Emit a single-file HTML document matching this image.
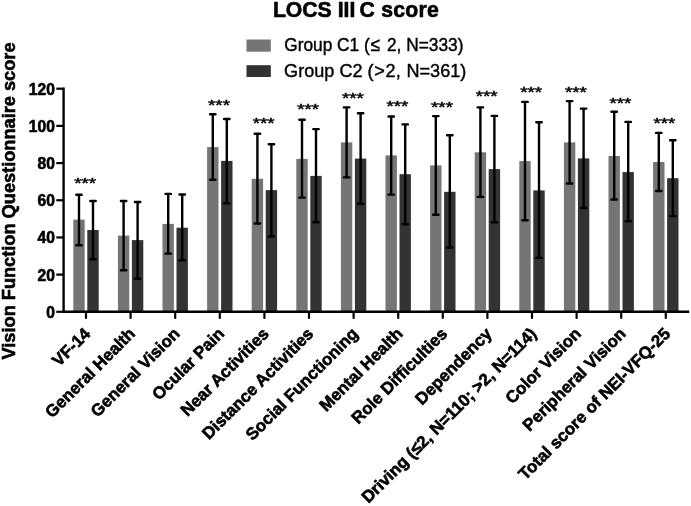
<!DOCTYPE html>
<html lang="en"><head><meta charset="utf-8"><title>LOCS III C score</title>
<style>html,body{margin:0;padding:0;background:#fff}body{width:691px;height:506px;overflow:hidden}svg{display:block}text{font-family:"Liberation Sans", sans-serif;fill:#000}.b{font-weight:bold;stroke:#000;stroke-width:0.6px}.s{stroke:#000;stroke-width:0.6px}.r{stroke:#000;stroke-width:0.4px}</style>
</head><body>
<svg width="691" height="506" viewBox="0 0 691 506">
<rect width="691" height="506" fill="#fff"/>
<text class="b" font-size="21.2" transform="translate(272.9 16.7) scale(1 1.05)">LOCS III<tspan dx="-1.7"> C</tspan><tspan dx="0.2" letter-spacing="0.3"> score</tspan></text>
<rect x="246.5" y="39.5" width="24.3" height="12.2" fill="#757575"/>
<rect x="246.5" y="65.2" width="24.3" height="11.8" fill="#333333"/>
<text class="r" font-size="17.3" transform="translate(284.2 51.25) scale(1 1.1)">Group C1 (<tspan dx="0.7">≤</tspan><tspan dx="2.3"> 2, N=333)</tspan></text>
<text class="r" font-size="18.1" transform="translate(284.1 76.65) scale(1 1.035)">Group C2 (<tspan dx="0.8">&gt;</tspan><tspan dx="0.7">2,</tspan><tspan dx="0.7"> N=361)</tspan></text>
<text class="b" font-size="18.2" text-anchor="middle" transform="translate(14.6 201) rotate(-90)">Vision Function Questionnaire score</text>
<rect x="73.30" y="219.6" width="11.40" height="92.2" fill="#757575"/>
<rect x="87.30" y="230.0" width="11.40" height="81.8" fill="#333333"/>
<rect x="117.90" y="235.6" width="11.40" height="76.2" fill="#757575"/>
<rect x="131.90" y="240.1" width="11.40" height="71.7" fill="#333333"/>
<rect x="162.50" y="223.9" width="11.40" height="87.9" fill="#757575"/>
<rect x="176.50" y="227.7" width="11.40" height="84.1" fill="#333333"/>
<rect x="207.10" y="147.1" width="11.40" height="164.7" fill="#757575"/>
<rect x="221.10" y="160.9" width="11.40" height="150.9" fill="#333333"/>
<rect x="251.70" y="178.8" width="11.40" height="133.0" fill="#757575"/>
<rect x="265.70" y="190.1" width="11.40" height="121.7" fill="#333333"/>
<rect x="296.30" y="158.9" width="11.40" height="152.9" fill="#757575"/>
<rect x="310.30" y="175.9" width="11.40" height="135.9" fill="#333333"/>
<rect x="340.90" y="142.4" width="11.40" height="169.4" fill="#757575"/>
<rect x="354.90" y="158.6" width="11.40" height="153.2" fill="#333333"/>
<rect x="385.50" y="155.4" width="11.40" height="156.4" fill="#757575"/>
<rect x="399.50" y="174.2" width="11.40" height="137.6" fill="#333333"/>
<rect x="430.10" y="165.4" width="11.40" height="146.4" fill="#757575"/>
<rect x="444.10" y="191.8" width="11.40" height="120.0" fill="#333333"/>
<rect x="474.70" y="152.3" width="11.40" height="159.5" fill="#757575"/>
<rect x="488.70" y="169.1" width="11.40" height="142.7" fill="#333333"/>
<rect x="519.30" y="161.1" width="11.40" height="150.7" fill="#757575"/>
<rect x="533.30" y="190.4" width="11.40" height="121.4" fill="#333333"/>
<rect x="563.90" y="142.4" width="11.40" height="169.4" fill="#757575"/>
<rect x="577.90" y="158.4" width="11.40" height="153.4" fill="#333333"/>
<rect x="608.50" y="156.0" width="11.40" height="155.8" fill="#757575"/>
<rect x="622.50" y="172.1" width="11.40" height="139.7" fill="#333333"/>
<rect x="653.10" y="162.0" width="11.40" height="149.8" fill="#757575"/>
<rect x="667.10" y="178.2" width="11.40" height="133.6" fill="#333333"/>
<path d="M79.00 194.7V245.2M76.30 194.7H81.70M76.30 245.2H81.70" stroke="#000" stroke-width="2.4" fill="none" stroke-linecap="round"/>
<path d="M93.00 201.0V259.3M90.30 201.0H95.70M90.30 259.3H95.70" stroke="#000" stroke-width="2.4" fill="none" stroke-linecap="round"/>
<path d="M123.60 201.0V270.3M120.90 201.0H126.30M120.90 270.3H126.30" stroke="#000" stroke-width="2.4" fill="none" stroke-linecap="round"/>
<path d="M137.60 202.0V278.8M134.90 202.0H140.30M134.90 278.8H140.30" stroke="#000" stroke-width="2.4" fill="none" stroke-linecap="round"/>
<path d="M168.20 193.9V253.6M165.50 193.9H170.90M165.50 253.6H170.90" stroke="#000" stroke-width="2.4" fill="none" stroke-linecap="round"/>
<path d="M182.20 194.5V260.3M179.50 194.5H184.90M179.50 260.3H184.90" stroke="#000" stroke-width="2.4" fill="none" stroke-linecap="round"/>
<path d="M212.80 114.3V179.7M210.10 114.3H215.50M210.10 179.7H215.50" stroke="#000" stroke-width="2.4" fill="none" stroke-linecap="round"/>
<path d="M226.80 119.0V203.4M224.10 119.0H229.50M224.10 203.4H229.50" stroke="#000" stroke-width="2.4" fill="none" stroke-linecap="round"/>
<path d="M257.40 133.8V223.5M254.70 133.8H260.10M254.70 223.5H260.10" stroke="#000" stroke-width="2.4" fill="none" stroke-linecap="round"/>
<path d="M271.40 144.3V236.5M268.70 144.3H274.10M268.70 236.5H274.10" stroke="#000" stroke-width="2.4" fill="none" stroke-linecap="round"/>
<path d="M302.00 119.8V197.6M299.30 119.8H304.70M299.30 197.6H304.70" stroke="#000" stroke-width="2.4" fill="none" stroke-linecap="round"/>
<path d="M316.00 129.1V222.3M313.30 129.1H318.70M313.30 222.3H318.70" stroke="#000" stroke-width="2.4" fill="none" stroke-linecap="round"/>
<path d="M346.60 107.4V177.4M343.90 107.4H349.30M343.90 177.4H349.30" stroke="#000" stroke-width="2.4" fill="none" stroke-linecap="round"/>
<path d="M360.60 113.2V203.8M357.90 113.2H363.30M357.90 203.8H363.30" stroke="#000" stroke-width="2.4" fill="none" stroke-linecap="round"/>
<path d="M391.20 116.5V194.6M388.50 116.5H393.90M388.50 194.6H393.90" stroke="#000" stroke-width="2.4" fill="none" stroke-linecap="round"/>
<path d="M405.20 124.4V224.2M402.50 124.4H407.90M402.50 224.2H407.90" stroke="#000" stroke-width="2.4" fill="none" stroke-linecap="round"/>
<path d="M435.80 116.1V214.7M433.10 116.1H438.50M433.10 214.7H438.50" stroke="#000" stroke-width="2.4" fill="none" stroke-linecap="round"/>
<path d="M449.80 135.3V247.5M447.10 135.3H452.50M447.10 247.5H452.50" stroke="#000" stroke-width="2.4" fill="none" stroke-linecap="round"/>
<path d="M480.40 107.4V196.9M477.70 107.4H483.10M477.70 196.9H483.10" stroke="#000" stroke-width="2.4" fill="none" stroke-linecap="round"/>
<path d="M494.40 115.9V222.2M491.70 115.9H497.10M491.70 222.2H497.10" stroke="#000" stroke-width="2.4" fill="none" stroke-linecap="round"/>
<path d="M525.00 101.9V220.2M522.30 101.9H527.70M522.30 220.2H527.70" stroke="#000" stroke-width="2.4" fill="none" stroke-linecap="round"/>
<path d="M539.00 122.3V257.9M536.30 122.3H541.70M536.30 257.9H541.70" stroke="#000" stroke-width="2.4" fill="none" stroke-linecap="round"/>
<path d="M569.60 101.1V183.5M566.90 101.1H572.30M566.90 183.5H572.30" stroke="#000" stroke-width="2.4" fill="none" stroke-linecap="round"/>
<path d="M583.60 108.6V208.0M580.90 108.6H586.30M580.90 208.0H586.30" stroke="#000" stroke-width="2.4" fill="none" stroke-linecap="round"/>
<path d="M614.20 111.8V199.5M611.50 111.8H616.90M611.50 199.5H616.90" stroke="#000" stroke-width="2.4" fill="none" stroke-linecap="round"/>
<path d="M628.20 121.9V221.2M625.50 121.9H630.90M625.50 221.2H630.90" stroke="#000" stroke-width="2.4" fill="none" stroke-linecap="round"/>
<path d="M658.80 132.9V191.0M656.10 132.9H661.50M656.10 191.0H661.50" stroke="#000" stroke-width="2.4" fill="none" stroke-linecap="round"/>
<path d="M672.80 140.2V216.1M670.10 140.2H675.50M670.10 216.1H675.50" stroke="#000" stroke-width="2.4" fill="none" stroke-linecap="round"/>
<path d="M63.6 88.7V311.8H688" stroke="#000" stroke-width="2.4" fill="none" stroke-linecap="square"/>
<path d="M56.3 311.80H63.6" stroke="#000" stroke-width="2.2"/>
<text class="b" x="54.9" y="317.70" font-size="15.6" text-anchor="end">0</text>
<path d="M56.3 274.62H63.6" stroke="#000" stroke-width="2.2"/>
<text class="b" x="54.9" y="280.52" font-size="15.6" text-anchor="end">20</text>
<path d="M56.3 237.43H63.6" stroke="#000" stroke-width="2.2"/>
<text class="b" x="54.9" y="243.33" font-size="15.6" text-anchor="end">40</text>
<path d="M56.3 200.25H63.6" stroke="#000" stroke-width="2.2"/>
<text class="b" x="54.9" y="206.15" font-size="15.6" text-anchor="end">60</text>
<path d="M56.3 163.07H63.6" stroke="#000" stroke-width="2.2"/>
<text class="b" x="54.9" y="168.97" font-size="15.6" text-anchor="end">80</text>
<path d="M56.3 125.88H63.6" stroke="#000" stroke-width="2.2"/>
<text class="b" x="54.9" y="131.78" font-size="15.6" text-anchor="end">100</text>
<path d="M56.3 88.70H63.6" stroke="#000" stroke-width="2.2"/>
<text class="b" x="54.9" y="94.60" font-size="15.6" text-anchor="end">120</text>
<path d="M86.00 311.8V318" stroke="#000" stroke-width="2.2" stroke-linecap="round"/>
<text class="b" font-size="16.85" text-anchor="end" transform="translate(91.50 334.8) rotate(-45)">VF-14</text>
<path d="M130.60 311.8V318" stroke="#000" stroke-width="2.2" stroke-linecap="round"/>
<text class="b" font-size="16.85" text-anchor="end" transform="translate(136.10 334.8) rotate(-45)">General Health</text>
<path d="M175.20 311.8V318" stroke="#000" stroke-width="2.2" stroke-linecap="round"/>
<text class="b" font-size="16.85" text-anchor="end" transform="translate(180.70 334.8) rotate(-45)">General Vision</text>
<path d="M219.80 311.8V318" stroke="#000" stroke-width="2.2" stroke-linecap="round"/>
<text class="b" font-size="16.85" text-anchor="end" transform="translate(225.30 334.8) rotate(-45)">Ocular Pain</text>
<path d="M264.40 311.8V318" stroke="#000" stroke-width="2.2" stroke-linecap="round"/>
<text class="b" font-size="16.85" text-anchor="end" transform="translate(269.90 334.8) rotate(-45)">Near Activities</text>
<path d="M309.00 311.8V318" stroke="#000" stroke-width="2.2" stroke-linecap="round"/>
<text class="b" font-size="16.85" text-anchor="end" transform="translate(314.50 334.8) rotate(-45)">Distance Activities</text>
<path d="M353.60 311.8V318" stroke="#000" stroke-width="2.2" stroke-linecap="round"/>
<text class="b" font-size="16.85" text-anchor="end" transform="translate(359.10 334.8) rotate(-45)">Social Functioning</text>
<path d="M398.20 311.8V318" stroke="#000" stroke-width="2.2" stroke-linecap="round"/>
<text class="b" font-size="16.85" text-anchor="end" transform="translate(403.70 334.8) rotate(-45)">Mental Health</text>
<path d="M442.80 311.8V318" stroke="#000" stroke-width="2.2" stroke-linecap="round"/>
<text class="b" font-size="16.85" text-anchor="end" transform="translate(448.30 334.8) rotate(-45)">Role Difficulties</text>
<path d="M487.40 311.8V318" stroke="#000" stroke-width="2.2" stroke-linecap="round"/>
<text class="b" font-size="16.85" text-anchor="end" transform="translate(492.90 334.8) rotate(-45)">Dependency</text>
<path d="M532.00 311.8V318" stroke="#000" stroke-width="2.2" stroke-linecap="round"/>
<text class="b" font-size="16.85" text-anchor="end" transform="translate(537.50 334.8) rotate(-45)">Driving (≤2, N=110; &gt;2, N=114)</text>
<path d="M576.60 311.8V318" stroke="#000" stroke-width="2.2" stroke-linecap="round"/>
<text class="b" font-size="16.85" text-anchor="end" transform="translate(582.10 334.8) rotate(-45)">Color Vision</text>
<path d="M621.20 311.8V318" stroke="#000" stroke-width="2.2" stroke-linecap="round"/>
<text class="b" font-size="16.85" text-anchor="end" transform="translate(626.70 334.8) rotate(-45)">Peripheral Vision</text>
<path d="M665.80 311.8V318" stroke="#000" stroke-width="2.2" stroke-linecap="round"/>
<text class="b" font-size="16.85" text-anchor="end" transform="translate(671.30 334.8) rotate(-45)">Total score of NEI-VFQ-25</text>
<text class="s" font-size="18.2" text-anchor="middle" transform="translate(85.20 188.4) scale(1.03 0.8)">***</text>
<text class="s" font-size="18.2" text-anchor="middle" transform="translate(219.00 109.6) scale(1.03 0.8)">***</text>
<text class="s" font-size="18.2" text-anchor="middle" transform="translate(263.60 128.3) scale(1.03 0.8)">***</text>
<text class="s" font-size="18.2" text-anchor="middle" transform="translate(308.20 114.1) scale(1.03 0.8)">***</text>
<text class="s" font-size="18.2" text-anchor="middle" transform="translate(352.80 103.1) scale(1.03 0.8)">***</text>
<text class="s" font-size="18.2" text-anchor="middle" transform="translate(397.40 110.8) scale(1.03 0.8)">***</text>
<text class="s" font-size="18.2" text-anchor="middle" transform="translate(442.00 112.2) scale(1.03 0.8)">***</text>
<text class="s" font-size="18.2" text-anchor="middle" transform="translate(486.60 101.0) scale(1.03 0.8)">***</text>
<text class="s" font-size="18.2" text-anchor="middle" transform="translate(531.20 97.4) scale(1.03 0.8)">***</text>
<text class="s" font-size="18.2" text-anchor="middle" transform="translate(575.80 97.4) scale(1.03 0.8)">***</text>
<text class="s" font-size="18.2" text-anchor="middle" transform="translate(620.40 108.1) scale(1.03 0.8)">***</text>
<text class="s" font-size="18.2" text-anchor="middle" transform="translate(664.30 128.4) scale(1.03 0.8)">***</text>
</svg>
</body></html>
